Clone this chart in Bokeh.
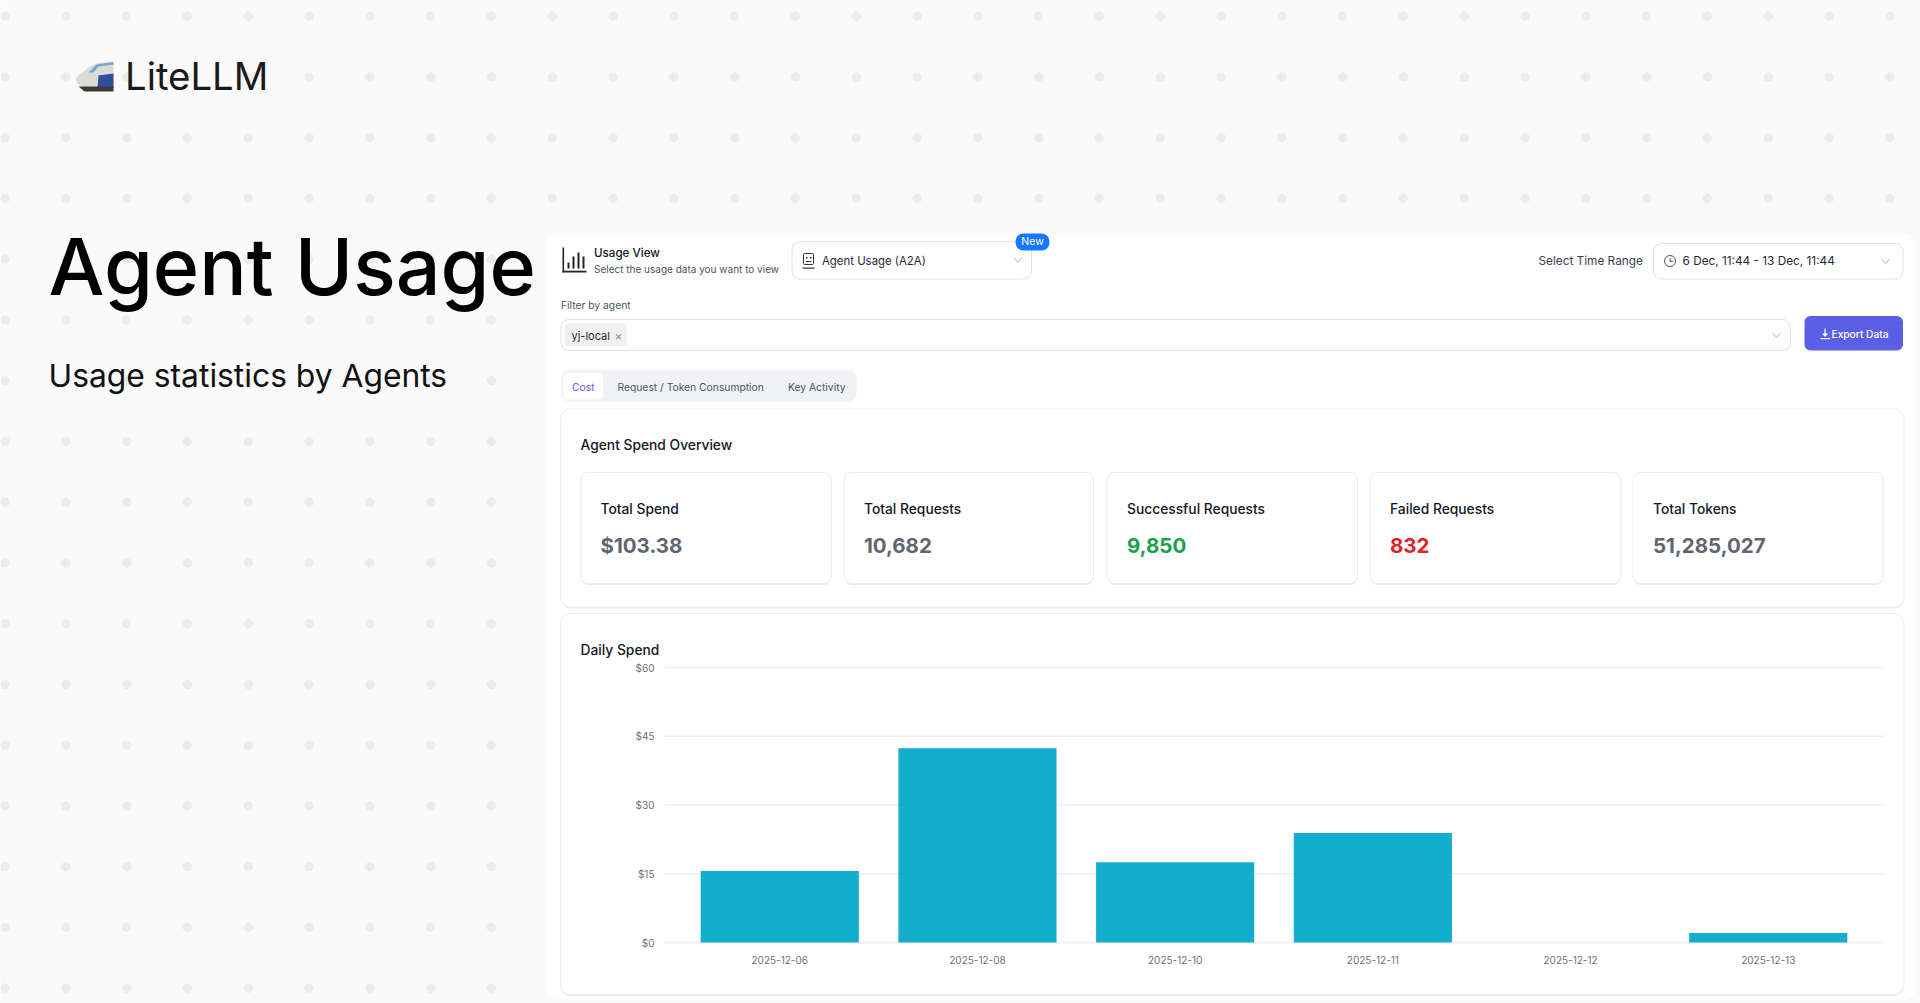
from bokeh.core.properties import value
from bokeh.embed import file_html
from bokeh.models import ColumnDataSource, FixedTicker, PrintfTickFormatter, Range1d
from bokeh.plotting import figure
from bokeh.resources import INLINE

# chart values
dates = ["2025-12-06", "2025-12-08", "2025-12-10", "2025-12-11", "2025-12-12", "2025-12-13"]
daily_spend = [15.6, 42.4, 17.5, 23.9, 0.0, 2.1]
y_ticks = [0, 15, 30, 45, 60]

# summary cards
kpi_titles = ["Total Spend", "Total Requests", "Successful Requests", "Failed Requests", "Total Tokens"]
kpi_values = ["$103.38", "10,682", "9,850", "832", "51,285,027"]
kpi_colors = ["#5f6672", "#5f6672", "#16a34a", "#dc2626", "#5f6672"]
kpi_left = [580, 843.5, 1106.5, 1369.5, 1632.5]
kpi_right = [831, 1093, 1357, 1620, 1883]

FONT = "Inter"
MEDIUM = "Inter Medium, Inter"
PANEL = "#ffffff"
W, H = 1920, 1003

# plot area on the page
PLOT_L, PLOT_R, PLOT_T, PLOT_B = 664, 1883, 667, 942
PAD = 0.083

slots = [i + 0.5 for i in range(len(dates))]
source = ColumnDataSource(dict(slot=slots, spend=daily_spend))

# the frame fills the page; main ranges are set so dollars and days land on the plot area
slot_px = (PLOT_R - PLOT_L) / (len(dates) + 2 * PAD)
zero_px = PLOT_L + PAD * slot_px
usd_px = (PLOT_B - PLOT_T) / max(y_ticks)

p = figure(width=W, height=H, output_backend="svg", toolbar_location=None,
           x_range=Range1d(-zero_px / slot_px, (W - zero_px) / slot_px),
           y_range=Range1d(-(H - PLOT_B) / usd_px, PLOT_B / usd_px),
           min_border=0)
p.border_fill_color = "#fafafa"
p.background_fill_color = "#fafafa"
p.outline_line_color = None
p.grid.visible = False

# second pair of ranges in page pixels for the furniture
p.extra_x_ranges = {"page": Range1d(0, W)}
p.extra_y_ranges = {"page": Range1d(H, 0)}
PAGE = dict(x_range_name="page", y_range_name="page")

p.xaxis.ticker = FixedTicker(ticks=slots)
p.xaxis.major_label_overrides = dict(zip(slots, dates))
p.xaxis.fixed_location = 0
p.yaxis.ticker = FixedTicker(ticks=y_ticks)
p.yaxis.formatter = PrintfTickFormatter(format="$%d")
p.yaxis.fixed_location = -PAD
for ax in (p.xaxis[0], p.yaxis[0]):
    ax.axis_line_color = None
    ax.major_tick_line_color = None
    ax.minor_tick_line_color = None
    ax.major_tick_out = 0
    ax.major_label_text_color = "#6b7280"
    ax.major_label_text_font = FONT
    ax.major_label_text_font_size = "10px"
p.yaxis.major_label_standoff = 10
p.xaxis.major_label_standoff = 13


def box(left, top, right, bottom, fill, line=None, radius=0):
    p.quad(left=[left], right=[right], top=[top], bottom=[bottom], fill_color=fill,
           line_color=line, line_width=1, border_radius=int(round(radius)), **PAGE)


def poly(xs, ys, fill):
    p.patch(xs, ys, fill_color=fill, line_color=None, **PAGE)


def text(x, y, s, size, color, style="normal", font=FONT, align="left"):
    p.text(x=[x], y=[y], text=[s], text_font=value(font), text_font_size=f"{size}px",
           text_font_style=style, text_color=color, text_align=align,
           text_baseline="middle", **PAGE)


def chevron(cx, cy, w=9, h=5, color="#b4b6bc"):
    poly([cx - w / 2, cx - w / 2 + 1, cx, cx + w / 2 - 1, cx + w / 2, cx],
         [cy - h / 2, cy - h / 2, cy + h / 2 - 1.2, cy - h / 2, cy - h / 2, cy + h / 2], color)


def card(left, top, right, bottom, radius=8):
    box(left, top + 1.5, right, bottom + 1.5, "#e9eaee", None, radius)
    box(left, top, right, bottom, PANEL, "#eceef1", radius)


# dotted background
dot_x, dot_y = [], []
for row in range(17):
    for col in range(32):
        cx = 4.6 + col * 60.8
        cy = 15.7 + row * 60.75
        if cy + 5 > 233 and cx - 5 > 545:
            continue
        dot_x.append(cx)
        dot_y.append(cy)
p.scatter(dot_x, dot_y, size=9.4, fill_color="#ececec", line_color=None, **PAGE)

# white panel behind the dashboard
box(545, 233, 1915, 999, PANEL, None, 12)

# logo: bullet train
poly([75, 78, 83, 90, 97, 113, 113, 82, 77], [79, 75, 71, 66, 62.5, 61, 88, 87, 83], "#dcdcd6")
poly([88, 96, 113, 113, 98, 93], [72, 64, 61.5, 64, 66, 72], "#6fa9d8")
poly([98, 113, 113, 97], [75, 73, 87, 87], "#2f4f9e")
poly([78, 113, 113, 84], [86, 86, 91, 91], "#3a3a3a")
text(124.5, 75.5, "LiteLLM", 38.3, "#1a1a1a")

text(48, 265, "Agent Usage", 79, "#000000", font=MEDIUM)
text(48, 375, "Usage statistics by Agents", 31.8, "#111111")

# header row
box(562, 247, 563.6, 272, "#222222")
box(562, 270.2, 586, 272, "#222222")
for x0, y0 in zip([567, 572, 577, 582], [262, 256, 252, 256]):
    box(x0, y0, x0 + 2, 268, "#222222")
text(593.5, 252, "Usage View", 11.6, "#111827", font=MEDIUM)
text(593.5, 268.5, "Select the usage data you want to view", 10, "#4b5563")

box(791.5, 241, 1031, 278.5, PANEL, "#dfe1e6", 8)
box(803, 253, 813, 264, PANEL, "#333333", 1)
box(805.5, 256.5, 807, 258, "#333333")
box(809.5, 256.5, 811, 258, "#333333")
box(805.5, 260.5, 811, 261.5, "#333333")
box(802, 267, 814, 268.2, "#333333")
text(821.5, 260.5, "Agent Usage (A2A)", 11.4, "#1f2937")
chevron(1017.5, 260)
box(1015, 233, 1049, 250, "#1677ff", None, 8)
text(1032, 241, "New", 10.5, "#ffffff", align="center")

text(1538, 260.5, "Select Time Range", 11.8, "#374151")
box(1653, 243, 1902.5, 278.5, PANEL, "#dfe1e6", 8)
box(1664, 255, 1675, 266, PANEL, "#4b5563", 6)
box(1669.2, 257.5, 1670.2, 261, "#4b5563")
box(1669.2, 260.4, 1672.5, 261.4, "#4b5563")
text(1682, 260.5, "6 Dec, 11:44 - 13 Dec, 11:44", 11.8, "#1f2937")
chevron(1885, 261)

# agent filter row
text(560.5, 304, "Filter by agent", 10.3, "#4b5563")
box(560.5, 319, 1790, 350, PANEL, "#dfe1e6", 8)
box(564, 323, 626, 346, "#f0f0f0", None, 4)
text(571, 335.5, "yj-local", 11, "#1f2937")
text(618, 335, "×", 12, "#8c8c8c", align="center")
chevron(1776, 335)

# export button with its download arrow
box(1804, 315.5, 1902.5, 350, "#5a5fe6", None, 6)
box(1824, 328, 1825.2, 335, "#ffffff")
poly([1821.5, 1827.7, 1824.6], [333, 333, 336.5], "#ffffff")
box(1820, 337.5, 1829.5, 338.7, "#ffffff")
text(1831, 333.5, "Export Data", 10.2, "#ffffff", font=MEDIUM)

# tabs
box(561, 369.5, 856, 401, "#f1f2f6", None, 8)
box(563, 372.5, 602.5, 399, "#ffffff", None, 5)
text(571.5, 386.5, "Cost", 10.3, "#5b5fe8")
text(617, 386.5, "Request / Token Consumption", 10.3, "#4b5563")
text(787.5, 386.5, "Key Activity", 10.3, "#4b5563")

# overview card
card(560, 408.5, 1903.5, 606.5, 10)
text(580, 444.5, "Agent Spend Overview", 13.8, "#111827", font=MEDIUM)
for title, val, color, left, right in zip(kpi_titles, kpi_values, kpi_colors, kpi_left, kpi_right):
    card(left, 472, right, 583)
    text(left + 20, 508, title, 13.8, "#111827", font=MEDIUM)
    text(left + 20, 545, val, 20.5, color, style="bold")

# daily spend card
card(560, 613, 1903.5, 994, 10)
text(580, 649.5, "Daily Spend", 13.8, "#111827", font=MEDIUM)

# chart: grid lines run only across the plot area
p.segment(x0=[PLOT_L] * len(y_ticks), x1=[PLOT_R] * len(y_ticks), y0=y_ticks, y1=y_ticks,
          line_color="#eeeef3", line_width=1.5, x_range_name="page")
p.vbar(x="slot", top="spend", width=0.8, source=source, fill_color="#14adcd", line_color=None)

open("out.html", "w").write(file_html(p, INLINE))
